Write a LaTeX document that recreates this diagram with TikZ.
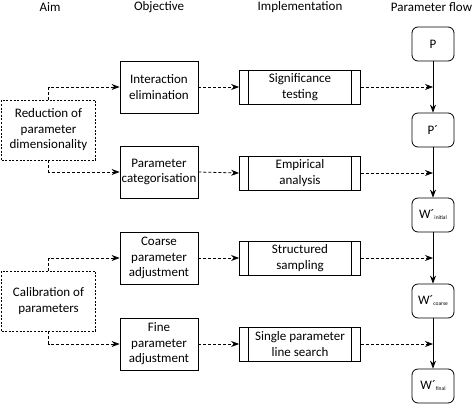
\documentclass[tikz,border=0pt]{standalone}
\usepackage{fontspec}
\setmainfont{Carlito}
\usetikzlibrary{arrows.meta}
\begin{document}
\begin{tikzpicture}[x=1pt,y=-1pt,
  every node/.style={font=\fontsize{13}{15.5}\selectfont, inner sep=1pt, align=center},
  hdr/.style={inner sep=0pt},
  objbox/.style={draw, line width=0.8pt, minimum width=78pt, minimum height=52pt},
  implbox/.style={draw, line width=0.8pt, minimum width=121pt, minimum height=34pt,
    path picture={
      \draw[line width=0.8pt] ([xshift=9pt]path picture bounding box.north west) -- ([xshift=9pt]path picture bounding box.south west);
      \draw[line width=0.8pt] ([xshift=-9pt]path picture bounding box.north east) -- ([xshift=-9pt]path picture bounding box.south east);}},
  aimbox/.style={draw, line width=0.8pt, dash pattern=on 2pt off 1.6pt, minimum width=94pt, minimum height=60pt},
  flowbox/.style={draw, line width=0.8pt, rounded corners=6pt, minimum width=42pt, minimum height=34pt},
  conn/.style={line width=0.8pt, dash pattern=on 3pt off 2pt, -{Stealth[length=8pt,width=6pt]}},
  flowarr/.style={line width=0.8pt, -{Stealth[length=8pt,width=6pt]}}
]
\useasboundingbox (0,0) rectangle (474,405);
\node[hdr] (h1) at (50,7) {Aim};
\node[hdr] (h2) at (159,7) {Objective};
\node[hdr] (h3) at (300,7) {Implementation};
\node[hdr] (h4) at (431.5,7) {Parameter flow};

\node[flowbox] (p0) at (433,44) {P};
\node[flowbox] (p1) at (433,130) {P´};
\node[flowbox] (w1) at (433,215) {W´\raisebox{-1pt}{\fontsize{5.5}{5.5}\selectfont initial}};
\node[flowbox] (w2) at (433,301) {W´\raisebox{-1pt}{\fontsize{5.5}{5.5}\selectfont coarse}};
\node[flowbox] (w3) at (433,386) {W´\raisebox{-1pt}{\fontsize{5.5}{5.5}\selectfont final}};

\node[objbox] (o1) at (159,87) {Interaction\\elimination};
\node[objbox] (o2) at (159,172) {Parameter\\categorisation};
\node[objbox] (o3) at (159,258) {Coarse\\parameter\\adjustment};
\node[objbox] (o4) at (159,344) {Fine\\parameter\\adjustment};

\node[implbox] (i1) at (300,87) {Significance\\testing};
\node[implbox] (i2) at (300,173) {Empirical\\analysis};
\node[implbox] (i3) at (300,258) {Structured\\sampling};
\node[implbox] (i4) at (300,344) {Single parameter\\line search};

\node[aimbox] (a1) at (48.5,130) {Reduction of\\parameter\\dimensionality};
\node[aimbox] (a2) at (48.5,301) {Calibration of\\parameters};

\draw[conn] (a1.north) |- (o1.west);
\draw[conn] (a1.south) |- (o2.west);
\draw[conn] (a2.north) |- (o3.west);
\draw[conn] (a2.south) |- (o4.west);

\draw[conn] (o1.east) -- (i1.west);
\draw[conn] (o2.east) -- (i2.west);
\draw[conn] (o3.east) -- (i3.west);
\draw[conn] (o4.east) -- (i4.west);

\coordinate (m1) at (p0.south |- i1.east);
\coordinate (m2) at (p0.south |- i2.east);
\coordinate (m3) at (p0.south |- i3.east);
\coordinate (m4) at (p0.south |- i4.east);
\draw[conn] (i1.east) -- (m1);
\draw[conn] (i2.east) -- (m2);
\draw[conn] (i3.east) -- (m3);
\draw[conn] (i4.east) -- (m4);

\draw[flowarr] (p0.south) -- (p1.north);
\draw[flowarr] (p1.south) -- (w1.north);
\draw[flowarr] (w1.south) -- (w2.north);
\draw[flowarr] (w2.south) -- (w3.north);
\end{tikzpicture}
\end{document}
